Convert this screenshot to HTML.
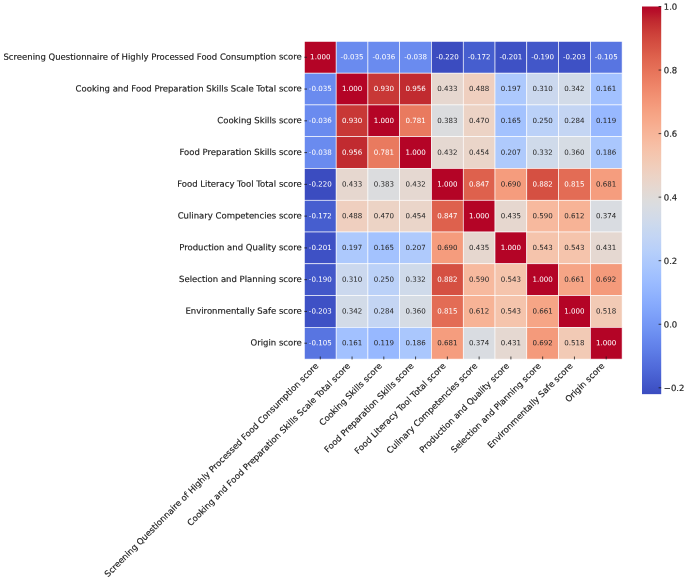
<!DOCTYPE html><html><head><meta charset="utf-8"><title>Correlation heatmap</title>
<style>html,body{margin:0;padding:0;background:#fff}svg{display:block}text{text-rendering:geometricPrecision;font-family:"DejaVu Sans","Liberation Sans",sans-serif}</style></head><body>
<svg width="685" height="578" viewBox="0 0 685 578">
<rect width="685" height="578" fill="#fff"/>
<defs><linearGradient id="cb" x1="0" y1="0" x2="0" y2="1">
<stop offset="0.0000" stop-color="#b40426"/>
<stop offset="0.0156" stop-color="#b8122a"/>
<stop offset="0.0312" stop-color="#be242e"/>
<stop offset="0.0469" stop-color="#c43032"/>
<stop offset="0.0625" stop-color="#ca3b37"/>
<stop offset="0.0781" stop-color="#cf453c"/>
<stop offset="0.0938" stop-color="#d44e41"/>
<stop offset="0.1094" stop-color="#d85646"/>
<stop offset="0.1250" stop-color="#dd5f4b"/>
<stop offset="0.1406" stop-color="#e16751"/>
<stop offset="0.1562" stop-color="#e46e56"/>
<stop offset="0.1719" stop-color="#e8765c"/>
<stop offset="0.1875" stop-color="#eb7d62"/>
<stop offset="0.2031" stop-color="#ee8468"/>
<stop offset="0.2188" stop-color="#f08b6e"/>
<stop offset="0.2344" stop-color="#f29274"/>
<stop offset="0.2500" stop-color="#f4987a"/>
<stop offset="0.2656" stop-color="#f59f80"/>
<stop offset="0.2812" stop-color="#f6a586"/>
<stop offset="0.2969" stop-color="#f7aa8c"/>
<stop offset="0.3125" stop-color="#f7b093"/>
<stop offset="0.3281" stop-color="#f7b599"/>
<stop offset="0.3438" stop-color="#f7ba9f"/>
<stop offset="0.3594" stop-color="#f6bfa6"/>
<stop offset="0.3750" stop-color="#f5c4ac"/>
<stop offset="0.3906" stop-color="#f3c8b2"/>
<stop offset="0.4062" stop-color="#f1ccb8"/>
<stop offset="0.4219" stop-color="#efcfbf"/>
<stop offset="0.4375" stop-color="#ecd3c5"/>
<stop offset="0.4531" stop-color="#e9d5cb"/>
<stop offset="0.4688" stop-color="#e5d8d1"/>
<stop offset="0.4844" stop-color="#e1dad6"/>
<stop offset="0.5000" stop-color="#dddcdc"/>
<stop offset="0.5156" stop-color="#d9dce1"/>
<stop offset="0.5312" stop-color="#d5dbe5"/>
<stop offset="0.5469" stop-color="#d1dae9"/>
<stop offset="0.5625" stop-color="#ccd9ed"/>
<stop offset="0.5781" stop-color="#c7d7f0"/>
<stop offset="0.5938" stop-color="#c3d5f4"/>
<stop offset="0.6094" stop-color="#bed2f6"/>
<stop offset="0.6250" stop-color="#b9d0f9"/>
<stop offset="0.6406" stop-color="#b3cdfb"/>
<stop offset="0.6562" stop-color="#aec9fc"/>
<stop offset="0.6719" stop-color="#a9c6fd"/>
<stop offset="0.6875" stop-color="#a3c2fe"/>
<stop offset="0.7031" stop-color="#9ebeff"/>
<stop offset="0.7188" stop-color="#98b9ff"/>
<stop offset="0.7344" stop-color="#93b5fe"/>
<stop offset="0.7500" stop-color="#8db0fe"/>
<stop offset="0.7656" stop-color="#88abfd"/>
<stop offset="0.7812" stop-color="#82a6fb"/>
<stop offset="0.7969" stop-color="#7da0f9"/>
<stop offset="0.8125" stop-color="#779af7"/>
<stop offset="0.8281" stop-color="#7295f4"/>
<stop offset="0.8438" stop-color="#6c8ff1"/>
<stop offset="0.8594" stop-color="#6788ee"/>
<stop offset="0.8750" stop-color="#6282ea"/>
<stop offset="0.8906" stop-color="#5d7ce6"/>
<stop offset="0.9062" stop-color="#5875e1"/>
<stop offset="0.9219" stop-color="#536edd"/>
<stop offset="0.9375" stop-color="#4e68d8"/>
<stop offset="0.9531" stop-color="#4961d2"/>
<stop offset="0.9688" stop-color="#445acc"/>
<stop offset="0.9844" stop-color="#3f53c6"/>
<stop offset="1.0000" stop-color="#3b4cc0"/>
</linearGradient></defs>
<g stroke="#fff" stroke-width="0.60">
<rect x="304.40" y="41.40" width="31.77" height="31.77" fill="#b40426"/>
<rect x="336.17" y="41.40" width="31.77" height="31.77" fill="#6a8bef"/>
<rect x="367.94" y="41.40" width="31.77" height="31.77" fill="#6a8bef"/>
<rect x="399.71" y="41.40" width="31.77" height="31.77" fill="#6a8bef"/>
<rect x="431.48" y="41.40" width="31.77" height="31.77" fill="#3b4cc0"/>
<rect x="463.25" y="41.40" width="31.77" height="31.77" fill="#465ecf"/>
<rect x="495.02" y="41.40" width="31.77" height="31.77" fill="#3e51c5"/>
<rect x="526.79" y="41.40" width="31.77" height="31.77" fill="#4257c9"/>
<rect x="558.56" y="41.40" width="31.77" height="31.77" fill="#3e51c5"/>
<rect x="590.33" y="41.40" width="31.77" height="31.77" fill="#5875e1"/>
<rect x="304.40" y="73.17" width="31.77" height="31.77" fill="#6a8bef"/>
<rect x="336.17" y="73.17" width="31.77" height="31.77" fill="#b40426"/>
<rect x="367.94" y="73.17" width="31.77" height="31.77" fill="#c83836"/>
<rect x="399.71" y="73.17" width="31.77" height="31.77" fill="#c12b30"/>
<rect x="431.48" y="73.17" width="31.77" height="31.77" fill="#e6d7cf"/>
<rect x="463.25" y="73.17" width="31.77" height="31.77" fill="#efcfbf"/>
<rect x="495.02" y="73.17" width="31.77" height="31.77" fill="#adc9fd"/>
<rect x="526.79" y="73.17" width="31.77" height="31.77" fill="#cbd8ee"/>
<rect x="558.56" y="73.17" width="31.77" height="31.77" fill="#d2dbe8"/>
<rect x="590.33" y="73.17" width="31.77" height="31.77" fill="#a2c1ff"/>
<rect x="304.40" y="104.94" width="31.77" height="31.77" fill="#6a8bef"/>
<rect x="336.17" y="104.94" width="31.77" height="31.77" fill="#c83836"/>
<rect x="367.94" y="104.94" width="31.77" height="31.77" fill="#b40426"/>
<rect x="399.71" y="104.94" width="31.77" height="31.77" fill="#e97a5f"/>
<rect x="431.48" y="104.94" width="31.77" height="31.77" fill="#dbdcde"/>
<rect x="463.25" y="104.94" width="31.77" height="31.77" fill="#ecd3c5"/>
<rect x="495.02" y="104.94" width="31.77" height="31.77" fill="#a3c2fe"/>
<rect x="526.79" y="104.94" width="31.77" height="31.77" fill="#bbd1f8"/>
<rect x="558.56" y="104.94" width="31.77" height="31.77" fill="#c4d5f3"/>
<rect x="590.33" y="104.94" width="31.77" height="31.77" fill="#97b8ff"/>
<rect x="304.40" y="136.71" width="31.77" height="31.77" fill="#6a8bef"/>
<rect x="336.17" y="136.71" width="31.77" height="31.77" fill="#c12b30"/>
<rect x="367.94" y="136.71" width="31.77" height="31.77" fill="#e97a5f"/>
<rect x="399.71" y="136.71" width="31.77" height="31.77" fill="#b40426"/>
<rect x="431.48" y="136.71" width="31.77" height="31.77" fill="#e5d8d1"/>
<rect x="463.25" y="136.71" width="31.77" height="31.77" fill="#ead5c9"/>
<rect x="495.02" y="136.71" width="31.77" height="31.77" fill="#afcafc"/>
<rect x="526.79" y="136.71" width="31.77" height="31.77" fill="#cfdaea"/>
<rect x="558.56" y="136.71" width="31.77" height="31.77" fill="#d6dce4"/>
<rect x="590.33" y="136.71" width="31.77" height="31.77" fill="#aac7fd"/>
<rect x="304.40" y="168.48" width="31.77" height="31.77" fill="#3b4cc0"/>
<rect x="336.17" y="168.48" width="31.77" height="31.77" fill="#e6d7cf"/>
<rect x="367.94" y="168.48" width="31.77" height="31.77" fill="#dbdcde"/>
<rect x="399.71" y="168.48" width="31.77" height="31.77" fill="#e5d8d1"/>
<rect x="431.48" y="168.48" width="31.77" height="31.77" fill="#b40426"/>
<rect x="463.25" y="168.48" width="31.77" height="31.77" fill="#de614d"/>
<rect x="495.02" y="168.48" width="31.77" height="31.77" fill="#f59c7d"/>
<rect x="526.79" y="168.48" width="31.77" height="31.77" fill="#d55042"/>
<rect x="558.56" y="168.48" width="31.77" height="31.77" fill="#e36c55"/>
<rect x="590.33" y="168.48" width="31.77" height="31.77" fill="#f59d7e"/>
<rect x="304.40" y="200.25" width="31.77" height="31.77" fill="#465ecf"/>
<rect x="336.17" y="200.25" width="31.77" height="31.77" fill="#efcfbf"/>
<rect x="367.94" y="200.25" width="31.77" height="31.77" fill="#ecd3c5"/>
<rect x="399.71" y="200.25" width="31.77" height="31.77" fill="#ead5c9"/>
<rect x="431.48" y="200.25" width="31.77" height="31.77" fill="#de614d"/>
<rect x="463.25" y="200.25" width="31.77" height="31.77" fill="#b40426"/>
<rect x="495.02" y="200.25" width="31.77" height="31.77" fill="#e6d7cf"/>
<rect x="526.79" y="200.25" width="31.77" height="31.77" fill="#f7b99e"/>
<rect x="558.56" y="200.25" width="31.77" height="31.77" fill="#f7b396"/>
<rect x="590.33" y="200.25" width="31.77" height="31.77" fill="#d9dce1"/>
<rect x="304.40" y="232.02" width="31.77" height="31.77" fill="#3e51c5"/>
<rect x="336.17" y="232.02" width="31.77" height="31.77" fill="#adc9fd"/>
<rect x="367.94" y="232.02" width="31.77" height="31.77" fill="#a3c2fe"/>
<rect x="399.71" y="232.02" width="31.77" height="31.77" fill="#afcafc"/>
<rect x="431.48" y="232.02" width="31.77" height="31.77" fill="#f59c7d"/>
<rect x="463.25" y="232.02" width="31.77" height="31.77" fill="#e6d7cf"/>
<rect x="495.02" y="232.02" width="31.77" height="31.77" fill="#b40426"/>
<rect x="526.79" y="232.02" width="31.77" height="31.77" fill="#f5c4ac"/>
<rect x="558.56" y="232.02" width="31.77" height="31.77" fill="#f5c4ac"/>
<rect x="590.33" y="232.02" width="31.77" height="31.77" fill="#e5d8d1"/>
<rect x="304.40" y="263.79" width="31.77" height="31.77" fill="#4257c9"/>
<rect x="336.17" y="263.79" width="31.77" height="31.77" fill="#cbd8ee"/>
<rect x="367.94" y="263.79" width="31.77" height="31.77" fill="#bbd1f8"/>
<rect x="399.71" y="263.79" width="31.77" height="31.77" fill="#cfdaea"/>
<rect x="431.48" y="263.79" width="31.77" height="31.77" fill="#d55042"/>
<rect x="463.25" y="263.79" width="31.77" height="31.77" fill="#f7b99e"/>
<rect x="495.02" y="263.79" width="31.77" height="31.77" fill="#f5c4ac"/>
<rect x="526.79" y="263.79" width="31.77" height="31.77" fill="#b40426"/>
<rect x="558.56" y="263.79" width="31.77" height="31.77" fill="#f6a586"/>
<rect x="590.33" y="263.79" width="31.77" height="31.77" fill="#f49a7b"/>
<rect x="304.40" y="295.56" width="31.77" height="31.77" fill="#3e51c5"/>
<rect x="336.17" y="295.56" width="31.77" height="31.77" fill="#d2dbe8"/>
<rect x="367.94" y="295.56" width="31.77" height="31.77" fill="#c4d5f3"/>
<rect x="399.71" y="295.56" width="31.77" height="31.77" fill="#d6dce4"/>
<rect x="431.48" y="295.56" width="31.77" height="31.77" fill="#e36c55"/>
<rect x="463.25" y="295.56" width="31.77" height="31.77" fill="#f7b396"/>
<rect x="495.02" y="295.56" width="31.77" height="31.77" fill="#f5c4ac"/>
<rect x="526.79" y="295.56" width="31.77" height="31.77" fill="#f6a586"/>
<rect x="558.56" y="295.56" width="31.77" height="31.77" fill="#b40426"/>
<rect x="590.33" y="295.56" width="31.77" height="31.77" fill="#f2cab5"/>
<rect x="304.40" y="327.33" width="31.77" height="31.77" fill="#5875e1"/>
<rect x="336.17" y="327.33" width="31.77" height="31.77" fill="#a2c1ff"/>
<rect x="367.94" y="327.33" width="31.77" height="31.77" fill="#97b8ff"/>
<rect x="399.71" y="327.33" width="31.77" height="31.77" fill="#aac7fd"/>
<rect x="431.48" y="327.33" width="31.77" height="31.77" fill="#f59d7e"/>
<rect x="463.25" y="327.33" width="31.77" height="31.77" fill="#d9dce1"/>
<rect x="495.02" y="327.33" width="31.77" height="31.77" fill="#e5d8d1"/>
<rect x="526.79" y="327.33" width="31.77" height="31.77" fill="#f49a7b"/>
<rect x="558.56" y="327.33" width="31.77" height="31.77" fill="#f2cab5"/>
<rect x="590.33" y="327.33" width="31.77" height="31.77" fill="#b40426"/>
</g>
<g font-size="7.10" text-anchor="middle">
<text transform="translate(320.28,59.34) rotate(-0.05)" fill="#ffffff">1.000</text>
<text transform="translate(352.05,59.34) rotate(-0.05)" fill="#ffffff">-0.035</text>
<text transform="translate(383.82,59.34) rotate(-0.05)" fill="#ffffff">-0.036</text>
<text transform="translate(415.59,59.34) rotate(-0.05)" fill="#ffffff">-0.038</text>
<text transform="translate(447.37,59.34) rotate(-0.05)" fill="#ffffff">-0.220</text>
<text transform="translate(479.13,59.34) rotate(-0.05)" fill="#ffffff">-0.172</text>
<text transform="translate(510.90,59.34) rotate(-0.05)" fill="#ffffff">-0.201</text>
<text transform="translate(542.67,59.34) rotate(-0.05)" fill="#ffffff">-0.190</text>
<text transform="translate(574.44,59.34) rotate(-0.05)" fill="#ffffff">-0.203</text>
<text transform="translate(606.21,59.34) rotate(-0.05)" fill="#ffffff">-0.105</text>
<text transform="translate(320.28,91.11) rotate(-0.05)" fill="#ffffff">-0.035</text>
<text transform="translate(352.05,91.11) rotate(-0.05)" fill="#ffffff">1.000</text>
<text transform="translate(383.82,91.11) rotate(-0.05)" fill="#ffffff">0.930</text>
<text transform="translate(415.59,91.11) rotate(-0.05)" fill="#ffffff">0.956</text>
<text transform="translate(447.37,91.11) rotate(-0.05)" fill="#262626">0.433</text>
<text transform="translate(479.13,91.11) rotate(-0.05)" fill="#262626">0.488</text>
<text transform="translate(510.90,91.11) rotate(-0.05)" fill="#262626">0.197</text>
<text transform="translate(542.67,91.11) rotate(-0.05)" fill="#262626">0.310</text>
<text transform="translate(574.44,91.11) rotate(-0.05)" fill="#262626">0.342</text>
<text transform="translate(606.21,91.11) rotate(-0.05)" fill="#262626">0.161</text>
<text transform="translate(320.28,122.88) rotate(-0.05)" fill="#ffffff">-0.036</text>
<text transform="translate(352.05,122.88) rotate(-0.05)" fill="#ffffff">0.930</text>
<text transform="translate(383.82,122.88) rotate(-0.05)" fill="#ffffff">1.000</text>
<text transform="translate(415.59,122.88) rotate(-0.05)" fill="#ffffff">0.781</text>
<text transform="translate(447.37,122.88) rotate(-0.05)" fill="#262626">0.383</text>
<text transform="translate(479.13,122.88) rotate(-0.05)" fill="#262626">0.470</text>
<text transform="translate(510.90,122.88) rotate(-0.05)" fill="#262626">0.165</text>
<text transform="translate(542.67,122.88) rotate(-0.05)" fill="#262626">0.250</text>
<text transform="translate(574.44,122.88) rotate(-0.05)" fill="#262626">0.284</text>
<text transform="translate(606.21,122.88) rotate(-0.05)" fill="#262626">0.119</text>
<text transform="translate(320.28,154.65) rotate(-0.05)" fill="#ffffff">-0.038</text>
<text transform="translate(352.05,154.65) rotate(-0.05)" fill="#ffffff">0.956</text>
<text transform="translate(383.82,154.65) rotate(-0.05)" fill="#ffffff">0.781</text>
<text transform="translate(415.59,154.65) rotate(-0.05)" fill="#ffffff">1.000</text>
<text transform="translate(447.37,154.65) rotate(-0.05)" fill="#262626">0.432</text>
<text transform="translate(479.13,154.65) rotate(-0.05)" fill="#262626">0.454</text>
<text transform="translate(510.90,154.65) rotate(-0.05)" fill="#262626">0.207</text>
<text transform="translate(542.67,154.65) rotate(-0.05)" fill="#262626">0.332</text>
<text transform="translate(574.44,154.65) rotate(-0.05)" fill="#262626">0.360</text>
<text transform="translate(606.21,154.65) rotate(-0.05)" fill="#262626">0.186</text>
<text transform="translate(320.28,186.42) rotate(-0.05)" fill="#ffffff">-0.220</text>
<text transform="translate(352.05,186.42) rotate(-0.05)" fill="#262626">0.433</text>
<text transform="translate(383.82,186.42) rotate(-0.05)" fill="#262626">0.383</text>
<text transform="translate(415.59,186.42) rotate(-0.05)" fill="#262626">0.432</text>
<text transform="translate(447.37,186.42) rotate(-0.05)" fill="#ffffff">1.000</text>
<text transform="translate(479.13,186.42) rotate(-0.05)" fill="#ffffff">0.847</text>
<text transform="translate(510.90,186.42) rotate(-0.05)" fill="#262626">0.690</text>
<text transform="translate(542.67,186.42) rotate(-0.05)" fill="#ffffff">0.882</text>
<text transform="translate(574.44,186.42) rotate(-0.05)" fill="#ffffff">0.815</text>
<text transform="translate(606.21,186.42) rotate(-0.05)" fill="#262626">0.681</text>
<text transform="translate(320.28,218.19) rotate(-0.05)" fill="#ffffff">-0.172</text>
<text transform="translate(352.05,218.19) rotate(-0.05)" fill="#262626">0.488</text>
<text transform="translate(383.82,218.19) rotate(-0.05)" fill="#262626">0.470</text>
<text transform="translate(415.59,218.19) rotate(-0.05)" fill="#262626">0.454</text>
<text transform="translate(447.37,218.19) rotate(-0.05)" fill="#ffffff">0.847</text>
<text transform="translate(479.13,218.19) rotate(-0.05)" fill="#ffffff">1.000</text>
<text transform="translate(510.90,218.19) rotate(-0.05)" fill="#262626">0.435</text>
<text transform="translate(542.67,218.19) rotate(-0.05)" fill="#262626">0.590</text>
<text transform="translate(574.44,218.19) rotate(-0.05)" fill="#262626">0.612</text>
<text transform="translate(606.21,218.19) rotate(-0.05)" fill="#262626">0.374</text>
<text transform="translate(320.28,249.96) rotate(-0.05)" fill="#ffffff">-0.201</text>
<text transform="translate(352.05,249.96) rotate(-0.05)" fill="#262626">0.197</text>
<text transform="translate(383.82,249.96) rotate(-0.05)" fill="#262626">0.165</text>
<text transform="translate(415.59,249.96) rotate(-0.05)" fill="#262626">0.207</text>
<text transform="translate(447.37,249.96) rotate(-0.05)" fill="#262626">0.690</text>
<text transform="translate(479.13,249.96) rotate(-0.05)" fill="#262626">0.435</text>
<text transform="translate(510.90,249.96) rotate(-0.05)" fill="#ffffff">1.000</text>
<text transform="translate(542.67,249.96) rotate(-0.05)" fill="#262626">0.543</text>
<text transform="translate(574.44,249.96) rotate(-0.05)" fill="#262626">0.543</text>
<text transform="translate(606.21,249.96) rotate(-0.05)" fill="#262626">0.431</text>
<text transform="translate(320.28,281.73) rotate(-0.05)" fill="#ffffff">-0.190</text>
<text transform="translate(352.05,281.73) rotate(-0.05)" fill="#262626">0.310</text>
<text transform="translate(383.82,281.73) rotate(-0.05)" fill="#262626">0.250</text>
<text transform="translate(415.59,281.73) rotate(-0.05)" fill="#262626">0.332</text>
<text transform="translate(447.37,281.73) rotate(-0.05)" fill="#ffffff">0.882</text>
<text transform="translate(479.13,281.73) rotate(-0.05)" fill="#262626">0.590</text>
<text transform="translate(510.90,281.73) rotate(-0.05)" fill="#262626">0.543</text>
<text transform="translate(542.67,281.73) rotate(-0.05)" fill="#ffffff">1.000</text>
<text transform="translate(574.44,281.73) rotate(-0.05)" fill="#262626">0.661</text>
<text transform="translate(606.21,281.73) rotate(-0.05)" fill="#262626">0.692</text>
<text transform="translate(320.28,313.50) rotate(-0.05)" fill="#ffffff">-0.203</text>
<text transform="translate(352.05,313.50) rotate(-0.05)" fill="#262626">0.342</text>
<text transform="translate(383.82,313.50) rotate(-0.05)" fill="#262626">0.284</text>
<text transform="translate(415.59,313.50) rotate(-0.05)" fill="#262626">0.360</text>
<text transform="translate(447.37,313.50) rotate(-0.05)" fill="#ffffff">0.815</text>
<text transform="translate(479.13,313.50) rotate(-0.05)" fill="#262626">0.612</text>
<text transform="translate(510.90,313.50) rotate(-0.05)" fill="#262626">0.543</text>
<text transform="translate(542.67,313.50) rotate(-0.05)" fill="#262626">0.661</text>
<text transform="translate(574.44,313.50) rotate(-0.05)" fill="#ffffff">1.000</text>
<text transform="translate(606.21,313.50) rotate(-0.05)" fill="#262626">0.518</text>
<text transform="translate(320.28,345.27) rotate(-0.05)" fill="#ffffff">-0.105</text>
<text transform="translate(352.05,345.27) rotate(-0.05)" fill="#262626">0.161</text>
<text transform="translate(383.82,345.27) rotate(-0.05)" fill="#262626">0.119</text>
<text transform="translate(415.59,345.27) rotate(-0.05)" fill="#262626">0.186</text>
<text transform="translate(447.37,345.27) rotate(-0.05)" fill="#262626">0.681</text>
<text transform="translate(479.13,345.27) rotate(-0.05)" fill="#262626">0.374</text>
<text transform="translate(510.90,345.27) rotate(-0.05)" fill="#262626">0.431</text>
<text transform="translate(542.67,345.27) rotate(-0.05)" fill="#262626">0.692</text>
<text transform="translate(574.44,345.27) rotate(-0.05)" fill="#262626">0.518</text>
<text transform="translate(606.21,345.27) rotate(-0.05)" fill="#ffffff">1.000</text>
</g>
<g stroke="#1a1a1a" stroke-width="0.80">
<line x1="304.40" y1="57.28" x2="307.00" y2="57.28"/>
<line x1="320.28" y1="359.40" x2="320.28" y2="356.50"/>
<line x1="304.40" y1="89.06" x2="307.00" y2="89.06"/>
<line x1="352.05" y1="359.40" x2="352.05" y2="356.50"/>
<line x1="304.40" y1="120.82" x2="307.00" y2="120.82"/>
<line x1="383.82" y1="359.40" x2="383.82" y2="356.50"/>
<line x1="304.40" y1="152.59" x2="307.00" y2="152.59"/>
<line x1="415.59" y1="359.40" x2="415.59" y2="356.50"/>
<line x1="304.40" y1="184.37" x2="307.00" y2="184.37"/>
<line x1="447.37" y1="359.40" x2="447.37" y2="356.50"/>
<line x1="304.40" y1="216.13" x2="307.00" y2="216.13"/>
<line x1="479.13" y1="359.40" x2="479.13" y2="356.50"/>
<line x1="304.40" y1="247.91" x2="307.00" y2="247.91"/>
<line x1="510.90" y1="359.40" x2="510.90" y2="356.50"/>
<line x1="304.40" y1="279.68" x2="307.00" y2="279.68"/>
<line x1="542.67" y1="359.40" x2="542.67" y2="356.50"/>
<line x1="304.40" y1="311.44" x2="307.00" y2="311.44"/>
<line x1="574.44" y1="359.40" x2="574.44" y2="356.50"/>
<line x1="304.40" y1="343.21" x2="307.00" y2="343.21"/>
<line x1="606.21" y1="359.40" x2="606.21" y2="356.50"/>
</g>
<g font-size="8.51" fill="#1a1a1a" stroke="#1a1a1a" stroke-width="0.15" text-anchor="end">
<text transform="translate(301.74,59.58) rotate(-0.05)">Screening Questionnaire of Highly Processed Food Consumption score</text>
<text transform="translate(301.74,91.36) rotate(-0.05)">Cooking and Food Preparation Skills Scale Total score</text>
<text transform="translate(301.74,123.12) rotate(-0.05)">Cooking Skills score</text>
<text transform="translate(301.74,154.90) rotate(-0.05)">Food Preparation Skills score</text>
<text transform="translate(301.74,186.67) rotate(-0.05)">Food Literacy Tool Total score</text>
<text transform="translate(301.74,218.44) rotate(-0.05)">Culinary Competencies score</text>
<text transform="translate(301.74,250.21) rotate(-0.05)">Production and Quality score</text>
<text transform="translate(301.74,281.98) rotate(-0.05)">Selection and Planning score</text>
<text transform="translate(301.74,313.75) rotate(-0.05)">Environmentally Safe score</text>
<text transform="translate(301.74,345.51) rotate(-0.05)">Origin score</text>
</g>
<g font-size="8.51" fill="#1a1a1a" stroke="#1a1a1a" stroke-width="0.15" text-anchor="end">
<text transform="translate(319.01,366.56) rotate(-45)">Screening Questionnaire of Highly Processed Food Consumption score</text>
<text transform="translate(350.78,366.56) rotate(-45)">Cooking and Food Preparation Skills Scale Total score</text>
<text transform="translate(382.56,366.56) rotate(-45)">Cooking Skills score</text>
<text transform="translate(414.32,366.56) rotate(-45)">Food Preparation Skills score</text>
<text transform="translate(446.10,366.56) rotate(-45)">Food Literacy Tool Total score</text>
<text transform="translate(477.87,366.56) rotate(-45)">Culinary Competencies score</text>
<text transform="translate(509.63,366.56) rotate(-45)">Production and Quality score</text>
<text transform="translate(541.40,366.56) rotate(-45)">Selection and Planning score</text>
<text transform="translate(573.17,366.56) rotate(-45)">Environmentally Safe score</text>
<text transform="translate(604.94,366.56) rotate(-45)">Origin score</text>
</g>
<rect x="642.00" y="6.50" width="19.20" height="387.65" fill="url(#cb)"/>
<g stroke="#1a1a1a" stroke-width="0.80">
<line x1="658.60" y1="6.50" x2="661.20" y2="6.50"/>
<line x1="658.60" y1="70.05" x2="661.20" y2="70.05"/>
<line x1="658.60" y1="133.60" x2="661.20" y2="133.60"/>
<line x1="658.60" y1="197.15" x2="661.20" y2="197.15"/>
<line x1="658.60" y1="260.70" x2="661.20" y2="260.70"/>
<line x1="658.60" y1="324.25" x2="661.20" y2="324.25"/>
<line x1="658.60" y1="387.80" x2="661.20" y2="387.80"/>
</g>
<g font-size="8.51" fill="#1a1a1a" stroke="#1a1a1a" stroke-width="0.15">
<text transform="translate(663.76,9.75) rotate(-0.05)">1.0</text>
<text transform="translate(663.76,73.30) rotate(-0.05)">0.8</text>
<text transform="translate(663.76,136.85) rotate(-0.05)">0.6</text>
<text transform="translate(663.76,200.40) rotate(-0.05)">0.4</text>
<text transform="translate(663.76,263.95) rotate(-0.05)">0.2</text>
<text transform="translate(663.76,327.50) rotate(-0.05)">0.0</text>
<text transform="translate(663.76,391.05) rotate(-0.05)">−0.2</text>
</g>
</svg></body></html>
